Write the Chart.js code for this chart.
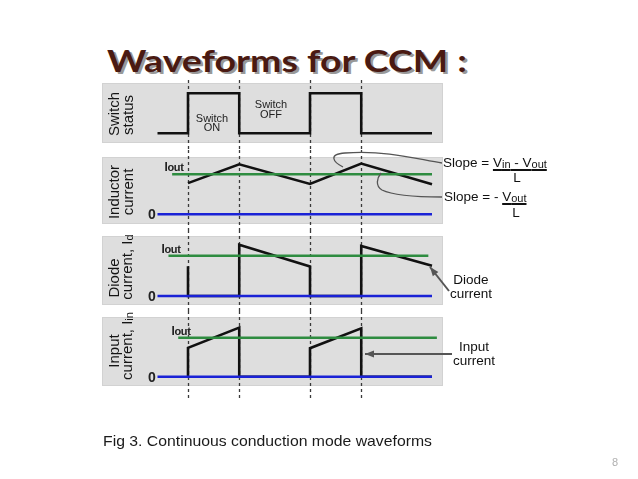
<!DOCTYPE html>
<html>
<head>
<meta charset="utf-8">
<script src="https://cdn.jsdelivr.net/npm/chart.js@4"></script>
<style>
  html, body { margin:0; padding:0; background:#fff; }
  #stage { position:relative; width:638px; height:479px; overflow:hidden; background:#fff; font-family:'Liberation Sans', Arial, sans-serif; color:#111; }
  .abs { position:absolute; }
  canvas.band { position:absolute; left:0; }
  .rot { position:absolute; width:0; height:0; }
  .rot > span { position:absolute; left:0; top:0; white-space:nowrap; transform: translate(-50%,-50%) rotate(-90deg); font-size:15px; line-height:15px; color:#151515; }
  .lbl { position:absolute; white-space:nowrap; transform:translate(-50%,-50%); }
  #title { left:107px; top:45px; font-family:Lato, 'Open Sans', sans-serif; font-weight:bold; font-size:30px; color:#4a1a12; text-shadow:2px 2px 0 #999; white-space:nowrap; transform-origin:0 0; line-height:30px; }
  #caption { left:103px; top:432px; font-size:15px; white-space:nowrap; color:#1a1a1a; line-height:17px; transform-origin:0 0; }
  #page { left:612px; top:456px; font-size:11px; color:#b0b0b0; }
  .iout { font-size:12px; font-weight:bold; color:#222; letter-spacing:-0.3px; }
  .zero { font-size:14px; font-weight:bold; color:#222; }
  .note { font-size:13.5px; color:#111; }
  .sw { font-size:11px; color:#222; text-align:center; line-height:10px; }
  .s11 { font-size:11px; position:relative; top:1px; }
</style>
</head>
<body>
<div id="stage">
  <div id="title" class="abs">Waveforms for CCM :</div>

  <canvas class="band" id="c1"></canvas>
  <canvas class="band" id="c2"></canvas>
  <canvas class="band" id="c3"></canvas>
  <canvas class="band" id="c4"></canvas>
  <canvas class="abs" id="overlay" width="638" height="479" style="left:0;top:0;"></canvas>

  <div class="rot" style="left:113px;top:114px"><span>Switch</span></div>
  <div class="rot" style="left:127px;top:115px"><span>status</span></div>
  <div class="rot" style="left:113px;top:192px"><span>Inductor</span></div>
  <div class="rot" style="left:127px;top:192px"><span>current</span></div>
  <div class="rot" style="left:113px;top:278px"><span>Diode</span></div>
  <div class="rot" style="left:127px;top:267px"><span>current, I<span class="s11">d</span></span></div>
  <div class="rot" style="left:113px;top:351px"><span>Input</span></div>
  <div class="rot" style="left:127px;top:346px"><span>current, I<span class="s11">in</span></span></div>

  <div class="lbl sw" style="left:212px;top:118px">Switch</div>
  <div class="lbl sw" style="left:212px;top:127px">ON</div>
  <div class="lbl sw" style="left:271px;top:104px">Switch</div>
  <div class="lbl sw" style="left:271px;top:114px">OFF</div>

  <div class="lbl iout" style="left:174px;top:167px">I<span style="font-size:11px">out</span></div>
  <div class="lbl iout" style="left:171px;top:249px">I<span style="font-size:11px">out</span></div>
  <div class="lbl iout" style="left:181px;top:331px">I<span style="font-size:11px">out</span></div>
  <div class="lbl zero" style="left:152px;top:214px">0</div>
  <div class="lbl zero" style="left:152px;top:296px">0</div>
  <div class="lbl zero" style="left:152px;top:377px">0</div>

  <div class="abs note" style="left:443px;top:155px;white-space:nowrap">Slope = <span style="text-decoration:underline;text-decoration-thickness:2px;text-underline-offset:2px">V<span class="s11">in</span> - V<span class="s11">out</span></span></div>
  <div class="lbl note" style="left:517px;top:177px">L</div>
  <div class="abs note" style="left:444px;top:189px;white-space:nowrap">Slope = - <span style="text-decoration:underline;text-decoration-thickness:2px;text-underline-offset:2px">V<span class="s11">out</span></span></div>
  <div class="lbl note" style="left:516px;top:212px">L</div>

  <div class="lbl note" style="left:471px;top:279px">Diode</div>
  <div class="lbl note" style="left:471px;top:293px">current</div>
  <div class="lbl note" style="left:474px;top:346px">Input</div>
  <div class="lbl note" style="left:474px;top:360px">current</div>

  <div id="caption" class="abs">Fig 3. Continuous conduction mode waveforms</div>
  <div id="page" class="abs">8</div>
</div>

<script>
// ---------------- data (time in switching periods, current in units of Iout) ----------------
const switchTimes   = [0, 0.42, 1, 1.42];
const switchT       = [-0.25, 0, 0, 0.42, 0.42, 1, 1, 1.42, 1.42, 2.0];
const switchState   = [0, 0, 1, 1, 0, 0, 1, 1, 0, 0];
const inductorT     = [0, 0.42, 1, 1.42, 2.0];
const inductorI     = [0.78, 1.25, 0.76, 1.27, 0.75];
const diodeT        = [0, 0, 0.42, 0.42, 1, 1, 1.42, 1.42, 2.0];
const diodeI        = [0.74, 0, 0, 1.27, 0.73, 0, 0, 1.24, 0.75];
const inputT        = [0, 0, 0.42, 0.42, 1, 1, 1.42, 1.42, 2.0];
const inputI        = [0, 0.74, 1.26, 0, 0, 0.73, 1.24, 0, 0];
const ioutLevel     = 1;
const zeroLevel     = 0;
const zeroSpan      = [-0.25, 2.0];
const ioutSpanInd   = [-0.13, 2.0];
const ioutSpanDiode = [-0.16, 1.97];
const ioutSpanInput = [-0.08, 2.04];

// ---------------- styling / layout ----------------
const GREEN = '#2e8c40', BLUE = '#1a22d6', BLACK = '#111111';
const X_MIN = -0.25, X_MAX = 2.05;
const PAGE_W = 638;
const PX_PER_T = 122, T0_PX = 188;

function pts(xs, ys) { return xs.map((x, i) => ({ x: x, y: ys[i] })); }
function level(span, v) { return span.map(x => ({ x: x, y: v })); }

function ds(data, color) {
  return { data: data, borderColor: color, borderWidth: 2.6, pointRadius: 0, tension: 0,
           fill: false, clip: false, borderJoinStyle: 'miter', borderCapStyle: 'butt' };
}

function makeBand(id, band, panel, p0, u, yMin, yMax, datasets, dashTop, dashBottom) {
  const cv = document.getElementById(id);
  const h = band[1] - band[0];
  cv.width = PAGE_W; cv.height = h;
  cv.style.top = band[0] + 'px';
  cv.style.width = PAGE_W + 'px'; cv.style.height = h + 'px';
  const chartLeft = T0_PX + PX_PER_T * X_MIN;
  const chartRight = T0_PX + PX_PER_T * X_MAX;
  const chartTop = p0 - yMax * u;
  const chartBottom = p0 - yMin * u;
  const bgPlugin = {
    id: 'panelBg',
    beforeDraw(chart) {
      const c = chart.ctx;
      c.save();
      c.fillStyle = '#dedede';
      c.fillRect(102, panel[0] - band[0], 341, panel[1] - panel[0]);
      c.strokeStyle = '#d2d2d2'; c.lineWidth = 1;
      c.strokeRect(102.5, panel[0] - band[0] + 0.5, 340, panel[1] - panel[0] - 1);
      c.restore();
    },
    beforeDatasetsDraw(chart) {
      const c = chart.ctx, xs = chart.scales.x;
      c.save();
      c.strokeStyle = '#3a3a3a'; c.lineWidth = 1.3; c.setLineDash([3, 3]);
      switchTimes.forEach(t => {
        const x = Math.round(xs.getPixelForValue(t)) + 0.5;
        c.beginPath();
        c.moveTo(x, (dashTop !== undefined ? dashTop : band[0]) - band[0]);
        c.lineTo(x, (dashBottom !== undefined ? dashBottom : band[1]) - band[0]);
        c.stroke();
      });
      c.restore();
    }
  };
  return new Chart(cv, {
    type: 'line',
    data: { datasets: datasets },
    options: {
      responsive: false, animation: false, devicePixelRatio: 1,
      layout: { padding: { left: chartLeft, right: PAGE_W - chartRight, top: chartTop - band[0], bottom: band[1] - chartBottom } },
      plugins: { legend: { display: false }, tooltip: { enabled: false } },
      scales: {
        x: { type: 'linear', min: X_MIN, max: X_MAX, display: false },
        y: { type: 'linear', min: yMin, max: yMax, display: false }
      }
    },
    plugins: [bgPlugin]
  });
}

makeBand('c1', [78, 150], [83, 143], 133.3, 40, -0.1, 1.1,
  [ds(pts(switchT, switchState), BLACK)], 80);
makeBand('c2', [150, 230], [157, 224], 214.3, 40, -0.3, 1.5,
  [ds(level(ioutSpanInd, ioutLevel), GREEN), ds(level(zeroSpan, zeroLevel), BLUE), ds(pts(inductorT, inductorI), BLACK)]);
makeBand('c3', [230, 311], [236, 305], 296, 40.3, -0.3, 1.5,
  [ds(level(ioutSpanDiode, ioutLevel), GREEN), ds(level(zeroSpan, zeroLevel), BLUE), ds(pts(diodeT, diodeI), BLACK)]);
makeBand('c4', [311, 400], [317, 386], 376.7, 39, -0.3, 1.5,
  [ds(level(ioutSpanInput, ioutLevel), GREEN), ds(level(zeroSpan, zeroLevel), BLUE), ds(pts(inputT, inputI), BLACK)], undefined, 398);

// ---------------- annotation strokes ----------------
(function () {
  const c = document.getElementById('overlay').getContext('2d');
  c.strokeStyle = '#555'; c.fillStyle = '#555'; c.lineWidth = 1.3;
  c.beginPath();
  c.moveTo(442, 163);
  c.bezierCurveTo(420, 160, 390, 150, 345, 153);
  c.bezierCurveTo(328, 154, 333, 162, 343, 167);
  c.stroke();
  c.beginPath();
  c.moveTo(442, 197);
  c.bezierCurveTo(420, 197, 394, 196, 382, 190);
  c.bezierCurveTo(375, 186, 377, 178, 381, 173);
  c.stroke();
  function arrow(x1, y1, x2, y2) {
    c.save();
    c.lineWidth = 2;
    c.beginPath(); c.moveTo(x1, y1); c.lineTo(x2, y2); c.stroke();
    const a = Math.atan2(y2 - y1, x2 - x1), L = 9, W = 3.5;
    c.beginPath();
    c.moveTo(x2, y2);
    c.lineTo(x2 - L * Math.cos(a) + W * Math.sin(a), y2 - L * Math.sin(a) - W * Math.cos(a));
    c.lineTo(x2 - L * Math.cos(a) - W * Math.sin(a), y2 - L * Math.sin(a) + W * Math.cos(a));
    c.closePath(); c.fill();
    c.restore();
  }
  arrow(449, 291, 430, 267);
  arrow(452, 354, 365, 354);
})();

// ---------------- fit title / caption widths ----------------
(function () {
  const t = document.getElementById('title');
  const w = t.getBoundingClientRect().width;
  t.style.transform = 'scaleX(' + (360 / w) + ')';
  const cap = document.getElementById('caption');
  const cw = cap.getBoundingClientRect().width;
  cap.style.transform = 'scaleX(' + (329 / cw) + ')';
})();
</script>
</body>
</html>
